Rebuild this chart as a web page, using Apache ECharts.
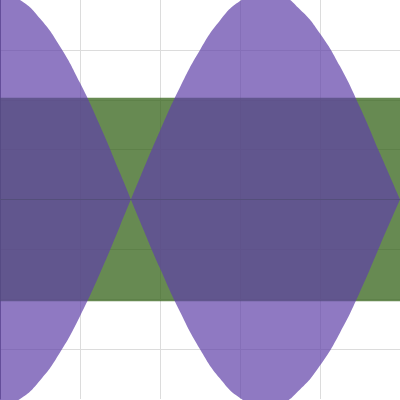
<!DOCTYPE html>
<html>
<head>
<meta charset="utf-8">
<script src="https://cdn.jsdelivr.net/npm/echarts@6/dist/echarts.min.js"></script>
<style>
html,body{margin:0;padding:0;background:#fff;}
#chart{width:400px;height:400px;}
</style>
</head>
<body>
<div id="chart"></div>
<script>
// x positions (axis units) and the purple wave values
var xs = [0, 0.25, 0.5, 0.75, 1, 1.25, 1.5, 1.75, 2, 2.25, 2.5, 2.75, 3, 3.25, 3.5, 3.75, 4, 4.25, 4.5, 4.75, 5];
var waveValues = [4.15, 4.00, 3.63, 3.07, 2.34, 1.48, 0.53, -0.44, -1.38, -2.25, -3.00, -3.59, -3.98, -4.14, -4.09, -3.81, -3.33, -2.67, -1.85, -0.92, 0];
var bandX = [0, 5];
var bandLevel = 2.04;

var upper = xs.map(function (x, i) { return [x, waveValues[i]]; });
var lower = xs.map(function (x, i) { return [x, -waveValues[i]]; });
var bandTop = bandX.map(function (x) { return [x, bandLevel]; });
var bandBottom = bandX.map(function (x) { return [x, -bandLevel]; });

var green = 'rgba(52,99,24,0.75)';
var purple = 'rgba(95,64,168,0.7)';

function area(data, color) {
  return {
    type: 'line',
    data: data,
    smooth: true,
    clip: false,
    showSymbol: false,
    silent: true,
    lineStyle: { width: 0, color: color },
    itemStyle: { color: color },
    areaStyle: { color: color, opacity: 1 }
  };
}

var chart = echarts.init(document.getElementById('chart'), null, { renderer: 'canvas' });
chart.setOption({
  animation: false,
  grid: { left: 0, right: 0, top: -1, bottom: 1, containLabel: false },
  xAxis: {
    type: 'value', min: 0, max: 5, interval: 1,
    axisLine: { show: true, onZero: true, lineStyle: { color: '#6E7079' } },
    axisTick: { show: false }, axisLabel: { show: false },
    splitLine: { show: true, showMinLine: false, showMaxLine: false, lineStyle: { color: '#DCDCDC' } }
  },
  yAxis: {
    type: 'value', min: -4, max: 4, interval: 1,
    axisLine: { show: true, onZero: false, lineStyle: { color: '#6E7079' } },
    axisTick: { show: false }, axisLabel: { show: false },
    splitLine: { show: true, showMinLine: false, showMaxLine: false, lineStyle: { color: '#DCDCDC' } }
  },
  series: [
    area(bandTop, green),
    area(bandBottom, green),
    area(upper, purple),
    area(lower, purple)
  ]
});
</script>
</body>
</html>
